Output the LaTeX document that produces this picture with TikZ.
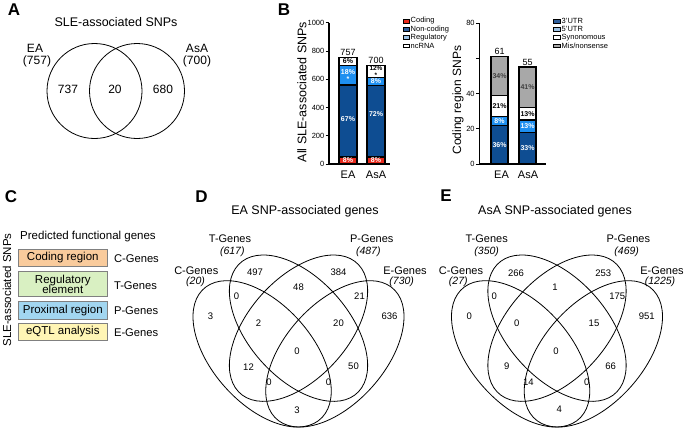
\documentclass[tikz,border=0pt]{standalone}
\usepackage{fontspec}
\setmainfont{Liberation Sans}
\definecolor{codingred}{HTML}{E8291C}
\definecolor{noncodblue}{HTML}{0E4D92}
\definecolor{regblue}{HTML}{1E8FF0}
\definecolor{misgray}{HTML}{A8A8A8}
\definecolor{legnc}{HTML}{2E5E9C}
\definecolor{legreg}{HTML}{9DC3E6}
\definecolor{boxorange}{HTML}{F9CB9C}
\definecolor{boxgreen}{HTML}{D9F0C2}
\definecolor{boxblue}{HTML}{A2D6F0}
\definecolor{boxyellow}{HTML}{FFF5B5}
\newcommand{\fsz}[1]{\fontsize{#1}{#1}\selectfont}

\begin{document}
\begin{tikzpicture}[x=1pt,y=-1pt,
    panel/.style={font=\fsz{17}\bfseries,inner sep=0pt},
    title/.style={font=\fsz{12.5}},
    vnum/.style={font=\fsz{12},inner sep=0pt},
    num/.style={font=\fsz{9.5},inner sep=0pt},
    setname/.style={font=\fsz{11},inner sep=0pt},
    setsize/.style={font=\fsz{10.5}\itshape,inner sep=0pt},
    axlabel/.style={font=\fsz{12.5},rotate=90},
    tick/.style={font=\fsz{7.5},anchor=east,inner sep=1pt},
    pct/.style={font=\fsz{7}\bfseries,text=white,inner sep=0pt},
    pctdark/.style={pct,text=black},
    legend/.style={font=\fsz{7.5},anchor=west,inner sep=1pt},
    bar/.style={draw=black,line width=1.3pt},
    funcbox/.style={draw=gray,line width=0.9pt,minimum width=89pt,font=\fsz{11.5},align=center,inner sep=1pt},
    venn/.style={draw=black,line width=0.8pt}]
\useasboundingbox (0,0) rectangle (685,429);

% A: SNP overlap
\node[panel] (pA) at (14,10) {A};
\node[title] (tA) at (116,22) {SLE-associated SNPs};
\draw[venn] (94.5,91) circle (47.5);
\draw[venn] (137,91) circle (47.5);
\node[vnum] (ea) at (35,48) {EA};
\node[vnum] (ean) at (37,61) {(757)};
\node[vnum] (asa) at (197,48) {AsA};
\node[vnum] (asan) at (197,61) {(700)};
\node[vnum] (n737) at (68,89) {737};
\node[vnum] (n20) at (115,89) {20};
\node[vnum] (n680) at (163,89) {680};

% B: bar charts
\node[panel] (pB) at (284,10) {B};
\node[axlabel] (ylA) at (302,92) {All SLE-associated SNPs};
\begin{scope}[shift={(0,164)},y=0.141pt]
  \draw[line width=1.2pt] (329,1000) -- (329,0) -- (390,0);
  \foreach \v in {0,200,...,1000} {
    \draw[line width=1pt] (325.5,\v) -- (329,\v);
    \node[tick] at (325.5,\v) {\v};
  }
  \foreach \lo/\hi/\col in {0/50/codingred,50/560/noncodblue,560/700/regblue,700/757/white}
    \draw[bar,fill=\col] (339,\lo) rectangle (357,\hi);
  \foreach \lo/\hi/\col in {0/50/codingred,50/555/noncodblue,555/615/regblue,615/700/white}
    \draw[bar,fill=\col] (367,\lo) rectangle (385,\hi);
  \node[font=\fsz{9},anchor=south,inner sep=1.5pt] (t757) at (348,757) {757};
  \node[font=\fsz{9},anchor=south,inner sep=1.5pt] (t700) at (376,700) {700};
  \node[pct] at (348,25) {8\%};
  \node[pct] at (348,320) {67\%};
  \node[pct] at (348,652) {18\%};
  \node[pct] at (348,604) {*};
  \node[pctdark] at (348,728) {6\%};
  \node[pct] at (376,25) {8\%};
  \node[pct] at (376,352) {72\%};
  \node[pct] at (376,585) {8\%};
  \node[pctdark,font=\fsz{6.5}\bfseries] at (376,676) {12\%};
  \node[pctdark,font=\fsz{6.5}\bfseries] at (376,630) {*};
\end{scope}
\node[font=\fsz{11}] (xEA1) at (348,175) {EA};
\node[font=\fsz{11}] (xAsA1) at (376,175) {AsA};
\foreach \t/\col [count=\i, evaluate=\i as \yy using 21+8.2*(\i-1)] in {Coding/codingred,Non-coding/legnc,Regulatory/legreg,ncRNA/white} {
  \draw[fill=\col,line width=0.6pt] (403,\yy-1.8) rectangle (409.5,\yy+1.8);
  \node[legend] at (409.5,\yy) {\t};
}

\node[axlabel,font=\fsz{12}] (ylB) at (458,100) {Coding region SNPs};
\begin{scope}[shift={(0,164)},y=1.7625pt]
  \draw[line width=1.2pt] (479.3,80) -- (479.3,0) -- (546,0);
  \foreach \v in {0,20,...,80}
    \draw[line width=1pt] (475.8,\v) -- (479.3,\v);
  \foreach \v in {0,20,40,80}
    \node[tick] at (475.8,\v) {\v};
  \foreach \lo/\hi/\col in {0/22/noncodblue,22/27/regblue,27/39/white,39/61/misgray}
    \draw[bar,fill=\col] (491,\lo) rectangle (508,\hi);
  \foreach \lo/\hi/\col in {0/18/noncodblue,18/25/regblue,25/32/white,32/55/misgray}
    \draw[bar,fill=\col] (519,\lo) rectangle (536,\hi);
  \node[font=\fsz{9},anchor=south,inner sep=1.5pt] (t61) at (499.5,61) {61};
  \node[font=\fsz{9},anchor=south,inner sep=1.5pt] (t55) at (527.5,55) {55};
  \node[pct] at (499.5,11) {36\%};
  \node[pct] at (499.5,24.5) {8\%};
  \node[pctdark] at (499.5,33) {21\%};
  \node[pctdark,text=black!75] at (499.5,50) {34\%};
  \node[pct] at (527.5,9) {33\%};
  \node[pct] at (527.5,21.5) {13\%};
  \node[pctdark] at (527.5,28.5) {13\%};
  \node[pctdark,text=black!75] at (527.5,43.5) {41\%};
\end{scope}
\node[font=\fsz{11}] (xEA2) at (501.5,175) {EA};
\node[font=\fsz{11}] (xAsA2) at (528,175) {AsA};
\foreach \t/\col [count=\i, evaluate=\i as \yy using 21+8.2*(\i-1)] in {3'UTR/legnc,5'UTR/legreg,Synonomous/white,{Mis/nonsense}/misgray} {
  \draw[fill=\col,line width=0.6pt] (553,\yy-1.8) rectangle (560.5,\yy+1.8);
  \node[legend] at (560.5,\yy) {\t};
}

% C: gene categories
\node[panel] (pC) at (11,197) {C};
\node[font=\fsz{11.5},rotate=90] (snps) at (7,290) {SLE-associated SNPs};
\node[font=\fsz{11.5}] (pred) at (88,237) {Predicted functional genes};
\node[funcbox,fill=boxorange,minimum height=17.5pt] (cod) at (62.8,258) {Coding region};
\node[funcbox,fill=boxgreen,minimum height=25pt] (reg) at (62.8,284.2) {Regulatory\\[-1pt]element};
\node[funcbox,fill=boxblue,minimum height=17.5pt] (prox) at (62.8,310.5) {Proximal region};
\node[funcbox,fill=boxyellow,minimum height=16.5pt] (eqtl) at (62.8,331.7) {eQTL analysis};
\node[font=\fsz{11.2},anchor=west] (cg) at (110.5,258.3) {C-Genes};
\node[font=\fsz{11.2},anchor=west] (tg) at (110.5,286) {T-Genes};
\node[font=\fsz{11.2},anchor=west] (pg) at (110.5,311) {P-Genes};
\node[font=\fsz{11.2},anchor=west] (eg) at (110.5,332.3) {E-Genes};

% D and E: four-set overlaps
\node[panel] (pD) at (201.5,197) {D};
\node[title] (tD) at (305,211.7) {EA SNP-associated genes};
\node[panel] (pE) at (446,196) {E};
\node[title] (tE) at (555,211.7) {AsA SNP-associated genes};
\foreach \xc in {298.5,557} {
  \begin{scope}[shift={(\xc,0)}]
    \begin{scope}[shift={(-121.25,474.5)},x=242.5pt,y=242.5pt,yscale=1.0586]
      \draw[venn,rotate around={-45:(0.35,0.47)}] (0.35,0.47) ellipse (0.35 and 0.2);
      \draw[venn,rotate around={-45:(0.5,0.57)}] (0.5,0.57) ellipse (0.35 and 0.2);
      \draw[venn,rotate around={45:(0.5,0.57)}] (0.5,0.57) ellipse (0.35 and 0.2);
      \draw[venn,rotate around={45:(0.65,0.47)}] (0.65,0.47) ellipse (0.35 and 0.2);
    \end{scope}
  \end{scope}
}
% EA labels
\node[setname] (dT) at (230,238.3) {T-Genes};
\node[setsize] (dTn) at (232.3,251.7) {(617)};
\node[setname] (dP) at (371.7,238.3) {P-Genes};
\node[setsize] (dPn) at (368.3,251.7) {(487)};
\node[setname] (dC) at (196.3,271) {C-Genes};
\node[setsize] (dCn) at (195.5,282) {(20)};
\node[setname] (dE) at (405,271) {E-Genes};
\node[setsize] (dEn) at (401.7,282) {(730)};
\foreach \dx/\yy/\t in {-43.5/272/497, 40/272/384, 0/287/48, -62/296/0, 61/296/21,
    -88/316.5/3, 91/316/636, -40/323.3/2, 40/323.3/20, -1.5/351/0,
    -50/366.7/12, 55/366.7/50, -29.5/382/0, 30/382/0, -1.5/410/3}
  \node[num] at (298.5+\dx,\yy) {\t};
% AsA labels
\node[setname] (eT) at (486.7,238.3) {T-Genes};
\node[setsize] (eTn) at (486.7,251.7) {(350)};
\node[setname] (eP) at (628.3,238.3) {P-Genes};
\node[setsize] (ePn) at (626.7,251.7) {(469)};
\node[setname] (eC) at (461,271) {C-Genes};
\node[setsize] (eCn) at (458.3,282) {(27)};
\node[setname] (eE) at (662,271) {E-Genes};
\node[setsize] (eEn) at (660,282) {(1225)};
\foreach \dx/\yy/\t in {-41/273.3/266, 46.3/273.3/253, -2/287.3/1, -62.7/296/0, 60.3/296/175,
    -87.7/316.7/0, 89.7/316/951, -40.3/323.3/0, 37/323.3/15, -1/351/0,
    -50.3/366.7/9, 53.7/366.7/66, -28.7/382.3/14, 29.7/382.3/0, 2.3/409.3/4}
  \node[num] at (557+\dx,\yy) {\t};
\end{tikzpicture}
\end{document}
